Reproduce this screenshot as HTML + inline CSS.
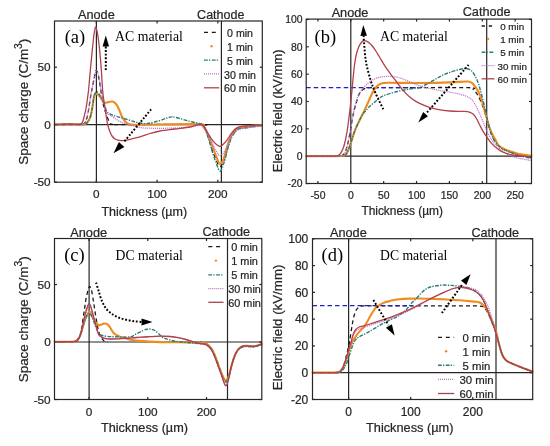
<!DOCTYPE html>
<html><head><meta charset="utf-8"><style>html,body{margin:0;padding:0;background:#fff;}svg{display:block} text{-webkit-font-smoothing:antialiased;} svg{will-change:transform}</style></head>
<body><svg width="550" height="446" viewBox="0 0 550 446">
<rect width="550" height="446" fill="#fff"/>
<line x1="96.4" y1="21" x2="96.4" y2="182.2" stroke="#262626" stroke-width="1.2" />
<line x1="221.4" y1="21" x2="221.4" y2="182.2" stroke="#262626" stroke-width="1.2" />
<line x1="54.5" y1="124.7" x2="262.3" y2="124.7" stroke="#262626" stroke-width="1.2" />
<line x1="96.4" y1="182.2" x2="96.4" y2="179.7" stroke="#262626" stroke-width="1.2" />
<line x1="96.4" y1="21" x2="96.4" y2="23.5" stroke="#262626" stroke-width="1.2" />
<line x1="157.1" y1="182.2" x2="157.1" y2="179.7" stroke="#262626" stroke-width="1.2" />
<line x1="157.1" y1="21" x2="157.1" y2="23.5" stroke="#262626" stroke-width="1.2" />
<line x1="217.8" y1="182.2" x2="217.8" y2="179.7" stroke="#262626" stroke-width="1.2" />
<line x1="217.8" y1="21" x2="217.8" y2="23.5" stroke="#262626" stroke-width="1.2" />
<line x1="54.5" y1="182.2" x2="57" y2="182.2" stroke="#262626" stroke-width="1.2" />
<line x1="262.3" y1="182.2" x2="259.8" y2="182.2" stroke="#262626" stroke-width="1.2" />
<line x1="54.5" y1="124.7" x2="57" y2="124.7" stroke="#262626" stroke-width="1.2" />
<line x1="262.3" y1="124.7" x2="259.8" y2="124.7" stroke="#262626" stroke-width="1.2" />
<line x1="54.5" y1="67.2" x2="57" y2="67.2" stroke="#262626" stroke-width="1.2" />
<line x1="262.3" y1="67.2" x2="259.8" y2="67.2" stroke="#262626" stroke-width="1.2" />
<line x1="350.8" y1="19.1" x2="350.8" y2="183.5" stroke="#262626" stroke-width="1.2" />
<line x1="486.7" y1="19.1" x2="486.7" y2="183.5" stroke="#262626" stroke-width="1.2" />
<line x1="306.2" y1="156.2" x2="531.5" y2="156.2" stroke="#262626" stroke-width="1.2" />
<line x1="317.93" y1="183.5" x2="317.93" y2="181" stroke="#262626" stroke-width="1.2" />
<line x1="317.93" y1="19.1" x2="317.93" y2="21.6" stroke="#262626" stroke-width="1.2" />
<line x1="350.8" y1="183.5" x2="350.8" y2="181" stroke="#262626" stroke-width="1.2" />
<line x1="350.8" y1="19.1" x2="350.8" y2="21.6" stroke="#262626" stroke-width="1.2" />
<line x1="383.68" y1="183.5" x2="383.68" y2="181" stroke="#262626" stroke-width="1.2" />
<line x1="383.68" y1="19.1" x2="383.68" y2="21.6" stroke="#262626" stroke-width="1.2" />
<line x1="416.55" y1="183.5" x2="416.55" y2="181" stroke="#262626" stroke-width="1.2" />
<line x1="416.55" y1="19.1" x2="416.55" y2="21.6" stroke="#262626" stroke-width="1.2" />
<line x1="449.43" y1="183.5" x2="449.43" y2="181" stroke="#262626" stroke-width="1.2" />
<line x1="449.43" y1="19.1" x2="449.43" y2="21.6" stroke="#262626" stroke-width="1.2" />
<line x1="482.3" y1="183.5" x2="482.3" y2="181" stroke="#262626" stroke-width="1.2" />
<line x1="482.3" y1="19.1" x2="482.3" y2="21.6" stroke="#262626" stroke-width="1.2" />
<line x1="515.17" y1="183.5" x2="515.17" y2="181" stroke="#262626" stroke-width="1.2" />
<line x1="515.17" y1="19.1" x2="515.17" y2="21.6" stroke="#262626" stroke-width="1.2" />
<line x1="306.2" y1="183.55" x2="308.7" y2="183.55" stroke="#262626" stroke-width="1.2" />
<line x1="531.5" y1="183.55" x2="529" y2="183.55" stroke="#262626" stroke-width="1.2" />
<line x1="306.2" y1="156.2" x2="308.7" y2="156.2" stroke="#262626" stroke-width="1.2" />
<line x1="531.5" y1="156.2" x2="529" y2="156.2" stroke="#262626" stroke-width="1.2" />
<line x1="306.2" y1="128.85" x2="308.7" y2="128.85" stroke="#262626" stroke-width="1.2" />
<line x1="531.5" y1="128.85" x2="529" y2="128.85" stroke="#262626" stroke-width="1.2" />
<line x1="306.2" y1="101.5" x2="308.7" y2="101.5" stroke="#262626" stroke-width="1.2" />
<line x1="531.5" y1="101.5" x2="529" y2="101.5" stroke="#262626" stroke-width="1.2" />
<line x1="306.2" y1="74.15" x2="308.7" y2="74.15" stroke="#262626" stroke-width="1.2" />
<line x1="531.5" y1="74.15" x2="529" y2="74.15" stroke="#262626" stroke-width="1.2" />
<line x1="306.2" y1="46.8" x2="308.7" y2="46.8" stroke="#262626" stroke-width="1.2" />
<line x1="531.5" y1="46.8" x2="529" y2="46.8" stroke="#262626" stroke-width="1.2" />
<line x1="306.2" y1="19.45" x2="308.7" y2="19.45" stroke="#262626" stroke-width="1.2" />
<line x1="531.5" y1="19.45" x2="529" y2="19.45" stroke="#262626" stroke-width="1.2" />
<line x1="89.1" y1="238.5" x2="89.1" y2="399.5" stroke="#262626" stroke-width="1.2" />
<line x1="227.5" y1="238.5" x2="227.5" y2="399.5" stroke="#262626" stroke-width="1.2" />
<line x1="54.5" y1="342" x2="261.8" y2="342" stroke="#262626" stroke-width="1.2" />
<line x1="89.1" y1="399.5" x2="89.1" y2="397" stroke="#262626" stroke-width="1.2" />
<line x1="89.1" y1="238.5" x2="89.1" y2="241" stroke="#262626" stroke-width="1.2" />
<line x1="147.8" y1="399.5" x2="147.8" y2="397" stroke="#262626" stroke-width="1.2" />
<line x1="147.8" y1="238.5" x2="147.8" y2="241" stroke="#262626" stroke-width="1.2" />
<line x1="206.5" y1="399.5" x2="206.5" y2="397" stroke="#262626" stroke-width="1.2" />
<line x1="206.5" y1="238.5" x2="206.5" y2="241" stroke="#262626" stroke-width="1.2" />
<line x1="54.5" y1="399.5" x2="57" y2="399.5" stroke="#262626" stroke-width="1.2" />
<line x1="261.8" y1="399.5" x2="259.3" y2="399.5" stroke="#262626" stroke-width="1.2" />
<line x1="54.5" y1="342" x2="57" y2="342" stroke="#262626" stroke-width="1.2" />
<line x1="261.8" y1="342" x2="259.3" y2="342" stroke="#262626" stroke-width="1.2" />
<line x1="54.5" y1="284.5" x2="57" y2="284.5" stroke="#262626" stroke-width="1.2" />
<line x1="261.8" y1="284.5" x2="259.3" y2="284.5" stroke="#262626" stroke-width="1.2" />
<line x1="348.6" y1="238.7" x2="348.6" y2="399.5" stroke="#262626" stroke-width="1.2" />
<line x1="496" y1="238.7" x2="496" y2="399.5" stroke="#262626" stroke-width="1.2" />
<line x1="312.5" y1="372.7" x2="532.7" y2="372.7" stroke="#262626" stroke-width="1.2" />
<line x1="348.6" y1="399.5" x2="348.6" y2="397" stroke="#262626" stroke-width="1.2" />
<line x1="348.6" y1="238.7" x2="348.6" y2="241.2" stroke="#262626" stroke-width="1.2" />
<line x1="410.7" y1="399.5" x2="410.7" y2="397" stroke="#262626" stroke-width="1.2" />
<line x1="410.7" y1="238.7" x2="410.7" y2="241.2" stroke="#262626" stroke-width="1.2" />
<line x1="472.8" y1="399.5" x2="472.8" y2="397" stroke="#262626" stroke-width="1.2" />
<line x1="472.8" y1="238.7" x2="472.8" y2="241.2" stroke="#262626" stroke-width="1.2" />
<line x1="312.5" y1="399.48" x2="315" y2="399.48" stroke="#262626" stroke-width="1.2" />
<line x1="532.7" y1="399.48" x2="530.2" y2="399.48" stroke="#262626" stroke-width="1.2" />
<line x1="312.5" y1="372.7" x2="315" y2="372.7" stroke="#262626" stroke-width="1.2" />
<line x1="532.7" y1="372.7" x2="530.2" y2="372.7" stroke="#262626" stroke-width="1.2" />
<line x1="312.5" y1="345.92" x2="315" y2="345.92" stroke="#262626" stroke-width="1.2" />
<line x1="532.7" y1="345.92" x2="530.2" y2="345.92" stroke="#262626" stroke-width="1.2" />
<line x1="312.5" y1="319.14" x2="315" y2="319.14" stroke="#262626" stroke-width="1.2" />
<line x1="532.7" y1="319.14" x2="530.2" y2="319.14" stroke="#262626" stroke-width="1.2" />
<line x1="312.5" y1="292.36" x2="315" y2="292.36" stroke="#262626" stroke-width="1.2" />
<line x1="532.7" y1="292.36" x2="530.2" y2="292.36" stroke="#262626" stroke-width="1.2" />
<line x1="312.5" y1="265.58" x2="315" y2="265.58" stroke="#262626" stroke-width="1.2" />
<line x1="532.7" y1="265.58" x2="530.2" y2="265.58" stroke="#262626" stroke-width="1.2" />
<line x1="312.5" y1="238.8" x2="315" y2="238.8" stroke="#262626" stroke-width="1.2" />
<line x1="532.7" y1="238.8" x2="530.2" y2="238.8" stroke="#262626" stroke-width="1.2" />
<path d="M54.5,124.5 C58.75,124.5 75.25,124.55 80,124.5 C84.75,124.45 82.2,124.48 83,124.2 C83.8,123.92 84.15,123.83 84.8,122.8 C85.45,121.77 86.23,120.38 86.9,118 C87.57,115.62 88.17,112.17 88.8,108.5 C89.43,104.83 90.13,99.42 90.7,96 C91.27,92.58 91.68,90.67 92.2,88 C92.72,85.33 93.28,82.53 93.8,80 C94.32,77.47 94.87,74.42 95.3,72.8 C95.73,71.18 96.02,70.35 96.4,70.3 C96.78,70.25 97.13,70.88 97.6,72.5 C98.07,74.12 98.67,77.08 99.2,80 C99.73,82.92 100.27,86.67 100.8,90 C101.33,93.33 101.83,97 102.4,100 C102.97,103 103.52,105.5 104.2,108 C104.88,110.5 105.57,112.55 106.5,115 C107.43,117.45 108.8,121.15 109.8,122.7 C110.8,124.25 110.8,123.98 112.5,124.3 C114.2,124.62 105.42,124.57 120,124.6 C134.58,124.63 186,124.18 200,124.5 C214,124.82 202.65,124.58 204,126.5 C205.35,128.42 206.75,132.25 208.1,136 C209.45,139.75 210.75,145 212.1,149 C213.45,153 214.88,157.08 216.2,160 C217.52,162.92 218.7,166.5 220,166.5 C221.3,166.5 222.67,163.42 224,160 C225.33,156.58 226.62,150.17 228,146 C229.38,141.83 230.68,137.83 232.3,135 C233.92,132.17 235.58,130.25 237.7,129 C239.82,127.75 240.95,128.12 245,127.5 C249.05,126.88 259.17,125.67 262,125.3" fill="none" stroke="#1a1a1a" stroke-width="1.3" stroke-dasharray="4,3"/>
<path d="M54.5,124.5 C57.08,124.48 65.75,124.4 70,124.4 C74.25,124.4 77.67,124.5 80,124.5 C82.33,124.5 83,124.55 84,124.4 C85,124.25 85.38,124.03 86,123.6 C86.62,123.17 87.03,122.73 87.7,121.8 C88.37,120.87 89.25,120.22 90,118 C90.75,115.78 91.52,112.17 92.2,108.5 C92.88,104.83 93.55,98.32 94.1,96 C94.65,93.68 94.98,94.93 95.5,94.6 C96.02,94.27 96.38,93.57 97.2,94 C98.02,94.43 99.27,95.77 100.4,97.2 C101.53,98.63 102.65,101.78 104,102.6 C105.35,103.42 106.93,102.25 108.5,102.1 C110.07,101.95 112.03,101.23 113.4,101.7 C114.77,102.17 115.7,103.45 116.7,104.9 C117.7,106.35 118.57,108.55 119.4,110.4 C120.23,112.25 120.88,114.32 121.7,116 C122.52,117.68 123.28,119.23 124.3,120.5 C125.32,121.77 126.65,122.93 127.8,123.6 C128.95,124.27 129.17,124.32 131.2,124.5 C133.23,124.68 135.2,124.7 140,124.7 C144.8,124.7 150,124.57 160,124.5 C170,124.43 192.75,123.88 200,124.3 C207.25,124.72 202.38,125.7 203.5,127 C204.62,128.3 205.27,129 206.7,132.1 C208.13,135.2 210.52,141.55 212.1,145.6 C213.68,149.65 214.9,153.37 216.2,156.4 C217.5,159.43 218.67,163.35 219.9,163.8 C221.13,164.25 222.42,161.9 223.6,159.1 C224.78,156.3 225.88,150.6 227,147 C228.12,143.4 228.97,140.32 230.3,137.5 C231.63,134.68 233.32,131.78 235,130.1 C236.68,128.42 237.9,128.08 240.4,127.4 C242.9,126.72 246.4,126.4 250,126 C253.6,125.6 260,125.17 262,125" fill="none" stroke="#f08c1e" stroke-width="2.1" stroke-linejoin="round" stroke-linecap="round"/>
<path d="M54.5,124.5 C57.08,124.48 65.75,124.4 70,124.4 C74.25,124.4 77.67,124.5 80,124.5 C82.33,124.5 83,124.55 84,124.4 C85,124.25 85.38,124.03 86,123.6 C86.62,123.17 87.03,122.73 87.7,121.8 C88.37,120.87 89.25,120.22 90,118 C90.75,115.78 91.52,112.17 92.2,108.5 C92.88,104.83 93.55,98.62 94.1,96 C94.65,93.38 95.05,93.55 95.5,92.8 C95.95,92.05 96.22,91.3 96.8,91.5 C97.38,91.7 98.25,92.9 99,94 C99.75,95.1 100.47,96.52 101.3,98.1 C102.13,99.68 103.1,101.32 104,103.5 C104.9,105.68 105.7,109.48 106.7,111.2 C107.7,112.92 108.87,113.08 110,113.8 C111.13,114.52 112.17,115 113.5,115.5 C114.83,116 116.43,116.35 118,116.8 C119.57,117.25 121.23,117.7 122.9,118.2 C124.57,118.7 126.22,119.25 128,119.8 C129.78,120.35 131.77,121 133.6,121.5 C135.43,122 137.2,122.45 139,122.8 C140.8,123.15 142.73,123.52 144.4,123.6 C146.07,123.68 147.43,123.53 149,123.3 C150.57,123.07 151.88,122.68 153.8,122.2 C155.72,121.72 158.3,121.1 160.5,120.4 C162.7,119.7 165.02,118.58 167,118 C168.98,117.42 170.23,116.82 172.4,116.9 C174.57,116.98 177.07,117.73 180,118.5 C182.93,119.27 186.67,120.65 190,121.5 C193.33,122.35 197.67,122.85 200,123.6 C202.33,124.35 202.65,123.68 204,126 C205.35,128.32 206.75,133.33 208.1,137.5 C209.45,141.67 210.75,146.73 212.1,151 C213.45,155.27 214.85,159.73 216.2,163.1 C217.55,166.47 218.85,171.42 220.2,171.2 C221.55,170.98 222.95,165.83 224.3,161.8 C225.65,157.77 226.97,151.27 228.3,147 C229.63,142.73 230.73,139.13 232.3,136.2 C233.87,133.27 235.58,130.75 237.7,129.4 C239.82,128.05 240.95,128.75 245,128.1 C249.05,127.45 259.17,125.93 262,125.5" fill="none" stroke="#287c78" stroke-width="1.4" stroke-dasharray="3.8,1.2,1.3,1.4"/>
<path d="M54.5,124.5 C58.75,124.5 75.25,124.55 80,124.5 C84.75,124.45 82.2,124.48 83,124.2 C83.8,123.92 84.15,123.83 84.8,122.8 C85.45,121.77 86.23,120.38 86.9,118 C87.57,115.62 88.17,112.17 88.8,108.5 C89.43,104.83 90.13,99.42 90.7,96 C91.27,92.58 91.68,90.67 92.2,88 C92.72,85.33 93.27,82.5 93.8,80 C94.33,77.5 94.93,74.53 95.4,73 C95.87,71.47 96.2,70.8 96.6,70.8 C97,70.8 97.33,71.47 97.8,73 C98.27,74.53 98.87,77.17 99.4,80 C99.93,82.83 100.43,86.67 101,90 C101.57,93.33 102.17,97.25 102.8,100 C103.43,102.75 104.15,104.45 104.8,106.5 C105.45,108.55 105.92,110.88 106.7,112.3 C107.48,113.72 108.37,114.13 109.5,115 C110.63,115.87 112.08,116.58 113.5,117.5 C114.92,118.42 116.43,119.6 118,120.5 C119.57,121.4 120.97,122.17 122.9,122.9 C124.83,123.63 126.68,124.12 129.6,124.9 C132.52,125.68 137,127.05 140.4,127.6 C143.8,128.15 146.73,128.08 150,128.2 C153.27,128.32 155.83,128.33 160,128.3 C164.17,128.27 170,128.22 175,128 C180,127.78 185.83,127.42 190,127 C194.17,126.58 197.67,125.32 200,125.5 C202.33,125.68 202.2,125.65 204,128.1 C205.8,130.55 208.77,136.38 210.8,140.2 C212.83,144.02 214.63,148.42 216.2,151 C217.77,153.58 218.63,155.93 220.2,155.7 C221.77,155.47 223.8,152.63 225.6,149.6 C227.4,146.57 228.98,140.75 231,137.5 C233.02,134.25 235.37,131.68 237.7,130.1 C240.03,128.52 240.95,128.68 245,128 C249.05,127.32 259.17,126.33 262,126" fill="none" stroke="#c070c8" stroke-width="1.25" stroke-dasharray="1.1,0.9"/>
<path d="M54.5,124.6 C55.75,124.53 59.42,124.3 62,124.2 C64.58,124.1 67.67,123.98 70,124 C72.33,124.02 74.42,124.25 76,124.3 C77.58,124.35 78.67,124.38 79.5,124.3 C80.33,124.22 80.5,124.13 81,123.8 C81.5,123.47 82.03,123.27 82.5,122.3 C82.97,121.33 83.38,119.55 83.8,118 C84.22,116.45 84.63,114.58 85,113 C85.37,111.42 85.67,110.33 86,108.5 C86.33,106.67 86.7,104.08 87,102 C87.3,99.92 87.53,98 87.8,96 C88.07,94 88.25,93.5 88.6,90 C88.95,86.5 89.45,80 89.9,75 C90.35,70 90.82,65 91.3,60 C91.78,55 92.32,49.5 92.8,45 C93.28,40.5 93.73,36 94.2,33 C94.67,30 95.13,27.33 95.6,27 C96.07,26.67 96.57,29.17 97,31 C97.43,32.83 97.83,35.5 98.2,38 C98.57,40.5 98.88,43.17 99.2,46 C99.52,48.83 99.77,51.33 100.1,55 C100.43,58.67 100.78,62.17 101.2,68 C101.62,73.83 102.13,84.38 102.6,90 C103.07,95.62 103.47,97.82 104,101.7 C104.53,105.58 105.2,109.57 105.8,113.3 C106.4,117.03 106.98,121.23 107.6,124.1 C108.22,126.97 108.77,128.52 109.5,130.5 C110.23,132.48 110.92,134.5 112,136 C113.08,137.5 114.3,138.72 116,139.5 C117.7,140.28 119.87,140.73 122.2,140.7 C124.53,140.67 127.03,139.93 130,139.3 C132.97,138.67 136.67,137.87 140,136.9 C143.33,135.93 146.67,134.48 150,133.5 C153.33,132.52 155.83,131.75 160,131 C164.17,130.25 170,129.67 175,129 C180,128.33 185.83,127.78 190,127 C194.17,126.22 197.67,124.38 200,124.3 C202.33,124.22 202.65,124.97 204,126.5 C205.35,128.03 206.52,130.98 208.1,133.5 C209.68,136.02 211.6,139.47 213.5,141.6 C215.4,143.73 217.92,145.82 219.5,146.3 C221.08,146.78 221.75,145.52 223,144.5 C224.25,143.48 225.45,142.27 227,140.2 C228.55,138.13 230.52,134.23 232.3,132.1 C234.08,129.97 235.58,128.42 237.7,127.4 C239.82,126.38 240.95,126.4 245,126 C249.05,125.6 259.17,125.17 262,125" fill="none" stroke="#b0404c" stroke-width="1.3" stroke-linejoin="round"/>
<path d="M306.2,156.1 C308.5,156.1 315.2,156.1 320,156.1 C324.8,156.1 331.67,156.12 335,156.1 C338.33,156.08 338.47,156.35 340,156 C341.53,155.65 343.02,155.58 344.2,154 C345.38,152.42 346.23,149.5 347.1,146.5 C347.97,143.5 348.72,139.5 349.4,136 C350.08,132.5 350.57,129.05 351.2,125.5 C351.83,121.95 352.63,117.53 353.2,114.7 C353.77,111.87 354.12,110.4 354.6,108.5 C355.08,106.6 355.35,105.68 356.1,103.3 C356.85,100.92 358.1,96.38 359.1,94.2 C360.1,92.02 361.1,91.18 362.1,90.2 C363.1,89.22 363.78,88.72 365.1,88.3 C366.42,87.88 364.18,87.82 370,87.7 C375.82,87.58 383.67,87.6 400,87.6 C416.33,87.6 455.78,87.37 468,87.7 C480.22,88.03 471.67,88.38 473.3,89.6 C474.93,90.82 476.3,92.45 477.8,95 C479.3,97.55 480.95,101.45 482.3,104.9 C483.65,108.35 485,112.8 485.9,115.7 C486.8,118.6 486.98,119.75 487.7,122.3 C488.42,124.85 489.17,128.12 490.2,131 C491.23,133.88 492.47,137.1 493.9,139.6 C495.33,142.1 496.95,144.27 498.8,146 C500.65,147.73 502.73,148.87 505,150 C507.27,151.13 509.73,151.93 512.4,152.8 C515.07,153.67 517.82,154.43 521,155.2 C524.18,155.97 529.75,157.03 531.5,157.4" fill="none" stroke="#1a1a1a" stroke-width="1.3" stroke-dasharray="4,3"/>
<line x1="306.2" y1="87.6" x2="422" y2="87.6" stroke="#2020c0" stroke-width="1.2" stroke-dasharray="4.5,3"/>
<path d="M306.2,156.1 C308.5,156.1 315.2,156.1 320,156.1 C324.8,156.1 331.67,156.12 335,156.1 C338.33,156.08 338.28,156.15 340,156 C341.72,155.85 343.83,156.4 345.3,155.2 C346.77,154 347.82,151.03 348.8,148.8 C349.78,146.57 350.23,144.72 351.2,141.8 C352.17,138.88 353.25,134.8 354.6,131.3 C355.95,127.8 357.9,123.77 359.3,120.8 C360.7,117.83 361.52,116.58 363,113.5 C364.48,110.42 366.67,105.68 368.2,102.3 C369.73,98.92 371.03,95.57 372.2,93.2 C373.37,90.83 374.2,89.45 375.2,88.1 C376.2,86.75 377.02,85.9 378.2,85.1 C379.38,84.3 380.58,83.68 382.3,83.3 C384.02,82.92 382.22,82.85 388.5,82.8 C394.78,82.75 409.75,83.07 420,83 C430.25,82.93 442,82.65 450,82.4 C458,82.15 464.12,81.2 468,81.5 C471.88,81.8 471.52,82.4 473.3,84.2 C475.08,86 477.2,89.33 478.7,92.3 C480.2,95.27 481.32,98.97 482.3,102 C483.28,105.03 483.85,107.75 484.6,110.5 C485.35,113.25 485.97,115.67 486.8,118.5 C487.63,121.33 488.67,124.83 489.6,127.5 C490.53,130.17 491.37,132.37 492.4,134.5 C493.43,136.63 494.73,138.42 495.8,140.3 C496.87,142.18 497.27,144.27 498.8,145.8 C500.33,147.33 502.73,148.47 505,149.5 C507.27,150.53 509.73,151.18 512.4,152 C515.07,152.82 517.82,153.78 521,154.4 C524.18,155.02 529.75,155.48 531.5,155.7" fill="none" stroke="#f08c1e" stroke-width="2.1" stroke-linejoin="round" stroke-linecap="round"/>
<path d="M306.2,156.1 C308.5,156.1 315.2,156.1 320,156.1 C324.8,156.1 331.67,156.12 335,156.1 C338.33,156.08 338.28,156.15 340,156 C341.72,155.85 343.83,156.4 345.3,155.2 C346.77,154 347.82,151.03 348.8,148.8 C349.78,146.57 350.23,144.72 351.2,141.8 C352.17,138.88 353.25,134.8 354.6,131.3 C355.95,127.8 357.9,123.68 359.3,120.8 C360.7,117.92 361.88,115.72 363,114 C364.12,112.28 364.92,111.75 366,110.5 C367.08,109.25 368.3,107.7 369.5,106.5 C370.7,105.3 371.75,104.52 373.2,103.3 C374.65,102.08 376.4,100.5 378.2,99.2 C380,97.9 380.82,96.78 384,95.5 C387.18,94.22 393.02,92.58 397.3,91.5 C401.58,90.42 406.2,89.62 409.7,89 C413.2,88.38 415.63,88.52 418.3,87.8 C420.97,87.08 423.02,86.03 425.7,84.7 C428.38,83.37 431.68,81.33 434.4,79.8 C437.12,78.27 439.4,76.75 442,75.5 C444.6,74.25 446.72,73.38 450,72.3 C453.28,71.22 459,69.62 461.7,69 C464.4,68.38 464.57,68.3 466.2,68.6 C467.83,68.9 469.72,68.95 471.5,70.8 C473.28,72.65 475.4,76.42 476.9,79.7 C478.4,82.98 479.3,86.3 480.5,90.5 C481.7,94.7 482.9,99.82 484.1,104.9 C485.3,109.98 486.68,116.65 487.7,121 C488.72,125.35 489.17,127.9 490.2,131 C491.23,134.1 492.47,137.1 493.9,139.6 C495.33,142.1 496.95,144.27 498.8,146 C500.65,147.73 502.73,148.83 505,150 C507.27,151.17 509.73,152 512.4,153 C515.07,154 517.82,155.07 521,156 C524.18,156.93 529.75,158.17 531.5,158.6" fill="none" stroke="#287c78" stroke-width="1.4" stroke-dasharray="3.8,1.2,1.3,1.4"/>
<path d="M306.2,156.1 C308.5,156.1 315.2,156.1 320,156.1 C324.8,156.1 331.67,156.12 335,156.1 C338.33,156.08 338.47,156.35 340,156 C341.53,155.65 343.02,155.58 344.2,154 C345.38,152.42 346.23,149.5 347.1,146.5 C347.97,143.5 348.72,139.5 349.4,136 C350.08,132.5 350.65,128.75 351.2,125.5 C351.75,122.25 352.23,119.03 352.7,116.5 C353.17,113.97 353.45,112.63 354,110.3 C354.55,107.97 355.32,104.85 356,102.5 C356.68,100.15 357.35,97.98 358.1,96.2 C358.85,94.42 359.67,93.15 360.5,91.8 C361.33,90.45 361.82,89.55 363.1,88.1 C364.38,86.65 366.52,84.52 368.2,83.1 C369.88,81.68 371.53,80.52 373.2,79.6 C374.87,78.68 376.4,78.1 378.2,77.6 C380,77.1 382.03,76.8 384,76.6 C385.97,76.4 387.23,76.15 390,76.4 C392.77,76.65 395.57,76.5 400.6,78.1 C405.63,79.7 413.63,83.93 420.2,86 C426.77,88.07 434.28,89.33 440,90.5 C445.72,91.67 450.25,92.1 454.5,93 C458.75,93.9 462.67,94.82 465.5,95.9 C468.33,96.98 470,98.23 471.5,99.5 C473,100.77 473.45,101.83 474.5,103.5 C475.55,105.17 476.68,107.2 477.8,109.5 C478.92,111.8 480.07,114.63 481.2,117.3 C482.33,119.97 483.48,122.8 484.6,125.5 C485.72,128.2 486.6,130.92 487.9,133.5 C489.2,136.08 490.72,138.75 492.4,141 C494.08,143.25 495.9,145.03 498,147 C500.1,148.97 502.18,151.08 505,152.8 C507.82,154.52 510.48,156 514.9,157.3 C519.32,158.6 528.73,160.05 531.5,160.6" fill="none" stroke="#c070c8" stroke-width="1.25" stroke-dasharray="1.1,0.9"/>
<path d="M306.2,156.1 C308.5,156.1 316.03,156.1 320,156.1 C323.97,156.1 327.33,156.13 330,156.1 C332.67,156.07 334.42,156.15 336,155.9 C337.58,155.65 338.33,155.78 339.5,154.6 C340.67,153.42 342.03,151.13 343,148.8 C343.97,146.47 344.62,143.52 345.3,140.6 C345.98,137.68 346.58,134.4 347.1,131.3 C347.62,128.2 348,124.97 348.4,122 C348.8,119.03 349.13,116.5 349.5,113.5 C349.87,110.5 350.25,107.25 350.6,104 C350.95,100.75 351.28,97.17 351.6,94 C351.92,90.83 352.22,88 352.5,85 C352.78,82 352.97,79.33 353.3,76 C353.63,72.67 354.02,68.5 354.5,65 C354.98,61.5 355.53,57.92 356.2,55 C356.87,52.08 357.7,49.5 358.5,47.5 C359.3,45.5 360.17,44.13 361,43 C361.83,41.87 362.58,41 363.5,40.7 C364.42,40.4 365.33,40.65 366.5,41.2 C367.67,41.75 369.2,42.77 370.5,44 C371.8,45.23 372.8,46.43 374.3,48.6 C375.8,50.77 377.72,54.07 379.5,57 C381.28,59.93 383.05,63.23 385,66.2 C386.95,69.17 389.15,72.03 391.2,74.8 C393.25,77.57 395.25,80.12 397.3,82.8 C399.35,85.48 401.43,88.53 403.5,90.9 C405.57,93.27 407.63,95.25 409.7,97 C411.77,98.75 413.85,100.17 415.9,101.4 C417.95,102.63 419.95,103.48 422,104.4 C424.05,105.32 426.03,106.17 428.2,106.9 C430.37,107.63 431.37,108.12 435,108.8 C438.63,109.48 445.1,110.57 450,111 C454.9,111.43 461.07,111.18 464.4,111.4 C467.73,111.62 468.5,111.82 470,112.3 C471.5,112.78 472.28,113.18 473.4,114.3 C474.52,115.42 475.58,117.08 476.7,119 C477.82,120.92 478.98,123.65 480.1,125.8 C481.22,127.95 482.28,130.03 483.4,131.9 C484.52,133.77 485.48,135.13 486.8,137 C488.12,138.87 489.62,141.23 491.3,143.1 C492.98,144.97 495.03,146.75 496.9,148.2 C498.77,149.65 499.92,150.67 502.5,151.8 C505.08,152.93 509.32,154.32 512.4,155 C515.48,155.68 517.82,155.62 521,155.9 C524.18,156.18 529.75,156.57 531.5,156.7" fill="none" stroke="#b0404c" stroke-width="1.3" stroke-linejoin="round"/>
<path d="M54.5,341.8 C57.42,341.8 68.58,341.82 72,341.8 C75.42,341.78 74.17,341.9 75,341.7 C75.83,341.5 76.25,341.35 77,340.6 C77.75,339.85 78.8,338.88 79.5,337.2 C80.2,335.52 80.72,332.78 81.2,330.5 C81.68,328.22 82.02,325.98 82.4,323.5 C82.78,321.02 83.12,318.22 83.5,315.6 C83.88,312.98 84.32,310.42 84.7,307.8 C85.08,305.18 85.33,302.52 85.8,299.9 C86.27,297.28 87.02,294.08 87.5,292.1 C87.98,290.12 88.33,288.97 88.7,288 C89.07,287.03 89.35,286.3 89.7,286.3 C90.05,286.3 90.43,287.03 90.8,288 C91.17,288.97 91.43,289.73 91.9,292.1 C92.37,294.47 93.03,298.65 93.6,302.2 C94.17,305.75 94.73,309.85 95.3,313.4 C95.87,316.95 96.53,320.88 97,323.5 C97.47,326.12 97.6,327.1 98.1,329.1 C98.6,331.1 99.32,333.87 100,335.5 C100.68,337.13 101.47,337.93 102.2,338.9 C102.93,339.87 103.43,340.8 104.4,341.3 C105.37,341.8 107.4,341.8 108,341.9" fill="none" stroke="#1a1a1a" stroke-width="1.3" stroke-dasharray="4,3"/>
<path d="M200,342.2 C201,342.38 204.2,342.42 206,343.3 C207.8,344.18 209.38,345.63 210.8,347.5 C212.22,349.37 213.28,351.67 214.5,354.5 C215.72,357.33 216.98,361.42 218.1,364.5 C219.22,367.58 220.28,370.58 221.2,373 C222.12,375.42 222.88,377.62 223.6,379 C224.32,380.38 224.93,381.05 225.5,381.3 C226.07,381.55 226.52,381.13 227,380.5 C227.48,379.87 227.87,379.12 228.4,377.5 C228.93,375.88 229.58,373.12 230.2,370.8 C230.82,368.48 231.38,366.02 232.1,363.6 C232.82,361.18 233.7,358.33 234.5,356.3 C235.3,354.27 236,352.8 236.9,351.4 C237.8,350 238.78,348.77 239.9,347.9 C241.02,347.03 242.38,346.52 243.6,346.2 C244.82,345.88 246.05,345.98 247.2,346 C248.35,346.02 249.38,346.22 250.5,346.3 C251.62,346.38 252.73,346.6 253.9,346.5 C255.07,346.4 256.18,346.1 257.5,345.7 C258.82,345.3 261.08,344.37 261.8,344.1" fill="none" stroke="#1a1a1a" stroke-width="1.3" stroke-dasharray="4,3"/>
<path d="M54.5,341.8 C56.25,341.78 62.42,341.72 65,341.7 C67.58,341.68 68.5,341.72 70,341.7 C71.5,341.68 72.92,341.8 74,341.6 C75.08,341.4 75.58,341.27 76.5,340.5 C77.42,339.73 78.67,338.5 79.5,337 C80.33,335.5 80.75,333.83 81.5,331.5 C82.25,329.17 83.12,325.67 84,323 C84.88,320.33 85.87,317.35 86.8,315.5 C87.73,313.65 88.82,312.15 89.6,311.9 C90.38,311.65 90.85,312.83 91.5,314 C92.15,315.17 92.63,317.3 93.5,318.9 C94.37,320.5 95.65,322.55 96.7,323.6 C97.75,324.65 98.63,325.2 99.8,325.2 C100.97,325.2 102.58,323.83 103.7,323.6 C104.82,323.37 105.67,323.48 106.5,323.8 C107.33,324.12 108.03,324.75 108.7,325.5 C109.37,326.25 109.87,327.3 110.5,328.3 C111.13,329.3 111.83,330.58 112.5,331.5 C113.17,332.42 113.68,333.13 114.5,333.8 C115.32,334.47 116.15,334.88 117.4,335.5 C118.65,336.12 120.4,336.95 122,337.5 C123.6,338.05 125.22,338.38 127,338.8 C128.78,339.22 130.53,339.65 132.7,340 C134.87,340.35 137.27,340.63 140,340.9 C142.73,341.17 145.77,341.4 149.1,341.6 C152.43,341.8 155.15,341.98 160,342.1 C164.85,342.22 171.53,342.18 178.2,342.3 C184.87,342.42 195.37,342.6 200,342.8 C204.63,343 204.2,342.68 206,343.5 C207.8,344.32 209.38,345.88 210.8,347.7 C212.22,349.52 213.28,351.67 214.5,354.4 C215.72,357.13 216.98,361.08 218.1,364.1 C219.22,367.12 220.28,370.18 221.2,372.5 C222.12,374.82 222.88,376.7 223.6,378 C224.32,379.3 224.93,380.05 225.5,380.3 C226.07,380.55 226.52,380.05 227,379.5 C227.48,378.95 227.87,378.5 228.4,377 C228.93,375.5 229.58,372.75 230.2,370.5 C230.82,368.25 231.38,365.88 232.1,363.5 C232.82,361.12 233.7,358.23 234.5,356.2 C235.3,354.17 236,352.72 236.9,351.3 C237.8,349.88 238.78,348.6 239.9,347.7 C241.02,346.8 242.38,346.22 243.6,345.9 C244.82,345.58 246.05,345.78 247.2,345.8 C248.35,345.82 249.38,345.93 250.5,346 C251.62,346.07 252.73,346.3 253.9,346.2 C255.07,346.1 256.18,345.78 257.5,345.4 C258.82,345.02 261.08,344.15 261.8,343.9" fill="none" stroke="#f08c1e" stroke-width="2.1" stroke-linejoin="round" stroke-linecap="round"/>
<path d="M54.5,341.8 C56.25,341.78 62.42,341.72 65,341.7 C67.58,341.68 68.5,341.72 70,341.7 C71.5,341.68 72.92,341.8 74,341.6 C75.08,341.4 75.58,341.27 76.5,340.5 C77.42,339.73 78.67,338.5 79.5,337 C80.33,335.5 80.75,333.92 81.5,331.5 C82.25,329.08 83.17,325 84,322.5 C84.83,320 85.7,318.02 86.5,316.5 C87.3,314.98 88.13,313.73 88.8,313.4 C89.47,313.07 89.88,313.73 90.5,314.5 C91.12,315.27 91.75,316.25 92.5,318 C93.25,319.75 94.17,322.83 95,325 C95.83,327.17 96.67,329.42 97.5,331 C98.33,332.58 99.08,333.7 100,334.5 C100.92,335.3 101.18,335.45 103,335.8 C104.82,336.15 108.07,336.42 110.9,336.6 C113.73,336.78 116.73,336.87 120,336.9 C123.27,336.93 127.7,337.35 130.5,336.8 C133.3,336.25 134.68,334.65 136.8,333.6 C138.92,332.55 141.5,331.22 143.2,330.5 C144.9,329.78 145.78,329.53 147,329.3 C148.22,329.07 149.17,328.9 150.5,329.1 C151.83,329.3 153.5,329.6 155,330.5 C156.5,331.4 158.13,333.3 159.5,334.5 C160.87,335.7 161.68,336.87 163.2,337.7 C164.72,338.53 166.63,338.92 168.6,339.5 C170.57,340.08 171.43,340.65 175,341.2 C178.57,341.75 185.83,342.4 190,342.8 C194.17,343.2 197.33,343.32 200,343.6 C202.67,343.88 204.2,343.68 206,344.5 C207.8,345.32 209.38,346.67 210.8,348.5 C212.22,350.33 213.28,352.75 214.5,355.5 C215.72,358.25 216.98,362 218.1,365 C219.22,368 220.28,371.08 221.2,373.5 C222.12,375.92 222.88,378.08 223.6,379.5 C224.32,380.92 224.93,381.75 225.5,382 C226.07,382.25 226.52,381.67 227,381 C227.48,380.33 227.87,379.67 228.4,378 C228.93,376.33 229.58,373.37 230.2,371 C230.82,368.63 231.38,366.22 232.1,363.8 C232.82,361.38 233.7,358.5 234.5,356.5 C235.3,354.5 236,353.17 236.9,351.8 C237.8,350.43 238.78,349.13 239.9,348.3 C241.02,347.47 242.38,347.08 243.6,346.8 C244.82,346.52 246.05,346.6 247.2,346.6 C248.35,346.6 249.38,346.73 250.5,346.8 C251.62,346.87 252.73,347.1 253.9,347 C255.07,346.9 256.18,346.62 257.5,346.2 C258.82,345.78 261.08,344.78 261.8,344.5" fill="none" stroke="#287c78" stroke-width="1.4" stroke-dasharray="3.8,1.2,1.3,1.4"/>
<path d="M54.5,341.8 C56.25,341.78 62.42,341.72 65,341.7 C67.58,341.68 68.67,341.7 70,341.7 C71.33,341.7 72.15,341.73 73,341.7 C73.85,341.67 74.38,341.72 75.1,341.5 C75.82,341.28 76.57,341.08 77.3,340.4 C78.03,339.72 78.88,338.72 79.5,337.4 C80.12,336.08 80.52,334.15 81,332.5 C81.48,330.85 81.88,329.58 82.4,327.5 C82.92,325.42 83.45,322.58 84.1,320 C84.75,317.42 85.68,314.08 86.3,312 C86.92,309.92 87.33,308.53 87.8,307.5 C88.27,306.47 88.65,305.83 89.1,305.8 C89.55,305.77 90.03,306.35 90.5,307.3 C90.97,308.25 91.28,309.3 91.9,311.5 C92.52,313.7 93.45,317.75 94.2,320.5 C94.95,323.25 95.68,325.67 96.4,328 C97.12,330.33 97.8,333.08 98.5,334.5 C99.2,335.92 99.85,335.92 100.6,336.5 C101.35,337.08 102.08,337.63 103,338 C103.92,338.37 104.93,338.53 106.1,338.7 C107.27,338.87 108.28,338.97 110,339 C111.72,339.03 114.07,339 116.4,338.9 C118.73,338.8 121.28,338.58 124,338.4 C126.72,338.22 129.73,338.02 132.7,337.8 C135.67,337.58 139.07,337.28 141.8,337.1 C144.53,336.92 146.07,336.85 149.1,336.7 C152.13,336.55 156.52,336.23 160,336.2 C163.48,336.17 166.97,336.27 170,336.5 C173.03,336.73 175.53,337.1 178.2,337.6 C180.87,338.1 183.58,338.83 186,339.5 C188.42,340.17 190.37,340.93 192.7,341.6 C195.03,342.27 197.78,342.98 200,343.5 C202.22,344.02 204.2,343.8 206,344.7 C207.8,345.6 209.38,346.98 210.8,348.9 C212.22,350.82 213.28,353.37 214.5,356.2 C215.72,359.03 216.98,362.87 218.1,365.9 C219.22,368.93 220.28,371.83 221.2,374.4 C222.12,376.97 222.9,379.53 223.6,381.3 C224.3,383.07 224.83,384.55 225.4,385 C225.97,385.45 226.5,384.87 227,384 C227.5,383.13 227.87,381.8 228.4,379.8 C228.93,377.8 229.58,374.63 230.2,372 C230.82,369.37 231.38,366.58 232.1,364 C232.82,361.42 233.7,358.58 234.5,356.5 C235.3,354.42 236,352.95 236.9,351.5 C237.8,350.05 238.78,348.72 239.9,347.8 C241.02,346.88 242.38,346.32 243.6,346 C244.82,345.68 246.05,345.87 247.2,345.9 C248.35,345.93 249.38,346.13 250.5,346.2 C251.62,346.27 252.73,346.42 253.9,346.3 C255.07,346.18 256.18,345.88 257.5,345.5 C258.82,345.12 261.08,344.25 261.8,344" fill="none" stroke="#c070c8" stroke-width="1.25" stroke-dasharray="1.1,0.9"/>
<path d="M54.5,341.8 C56.25,341.78 62.42,341.72 65,341.7 C67.58,341.68 68.67,341.7 70,341.7 C71.33,341.7 72.15,341.73 73,341.7 C73.85,341.67 74.38,341.72 75.1,341.5 C75.82,341.28 76.57,341.08 77.3,340.4 C78.03,339.72 78.88,338.72 79.5,337.4 C80.12,336.08 80.52,334.23 81,332.5 C81.48,330.77 81.88,329.33 82.4,327 C82.92,324.67 83.45,321.33 84.1,318.5 C84.75,315.67 85.68,312.17 86.3,310 C86.92,307.83 87.33,306.55 87.8,305.5 C88.27,304.45 88.65,303.7 89.1,303.7 C89.55,303.7 90.03,304.45 90.5,305.5 C90.97,306.55 91.28,307.75 91.9,310 C92.52,312.25 93.45,316.2 94.2,319 C94.95,321.8 95.68,324.3 96.4,326.8 C97.12,329.3 97.8,332.43 98.5,334 C99.2,335.57 99.85,335.57 100.6,336.2 C101.35,336.83 102.08,337.38 103,337.8 C103.92,338.22 104.93,338.5 106.1,338.7 C107.27,338.9 108.28,338.97 110,339 C111.72,339.03 114.07,339 116.4,338.9 C118.73,338.8 121.28,338.58 124,338.4 C126.72,338.22 129.73,338.02 132.7,337.8 C135.67,337.58 139.07,337.28 141.8,337.1 C144.53,336.92 146.07,336.85 149.1,336.7 C152.13,336.55 156.52,336.23 160,336.2 C163.48,336.17 166.97,336.27 170,336.5 C173.03,336.73 175.53,337.1 178.2,337.6 C180.87,338.1 183.58,338.83 186,339.5 C188.42,340.17 190.37,340.93 192.7,341.6 C195.03,342.27 197.78,342.98 200,343.5 C202.22,344.02 204.2,343.8 206,344.7 C207.8,345.6 209.38,346.98 210.8,348.9 C212.22,350.82 213.28,353.37 214.5,356.2 C215.72,359.03 216.98,362.87 218.1,365.9 C219.22,368.93 220.28,371.78 221.2,374.4 C222.12,377.02 222.9,379.73 223.6,381.6 C224.3,383.47 224.83,385.12 225.4,385.6 C225.97,386.08 226.5,385.43 227,384.5 C227.5,383.57 227.87,382.08 228.4,380 C228.93,377.92 229.58,374.67 230.2,372 C230.82,369.33 231.38,366.58 232.1,364 C232.82,361.42 233.7,358.58 234.5,356.5 C235.3,354.42 236,352.95 236.9,351.5 C237.8,350.05 238.78,348.72 239.9,347.8 C241.02,346.88 242.38,346.32 243.6,346 C244.82,345.68 246.05,345.87 247.2,345.9 C248.35,345.93 249.38,346.13 250.5,346.2 C251.62,346.27 252.73,346.42 253.9,346.3 C255.07,346.18 256.18,345.88 257.5,345.5 C258.82,345.12 261.08,344.25 261.8,344" fill="none" stroke="#b0404c" stroke-width="1.3" stroke-linejoin="round"/>
<path d="M312.5,372.6 C315.42,372.6 325.92,372.62 330,372.6 C334.08,372.58 335.3,372.68 337,372.5 C338.7,372.32 339.1,372.65 340.2,371.5 C341.3,370.35 342.67,367.87 343.6,365.6 C344.53,363.33 345.08,360.6 345.8,357.9 C346.52,355.2 347.23,352.38 347.9,349.4 C348.57,346.42 349.12,343.9 349.8,340 C350.48,336.1 351.3,330 352,326 C352.7,322 353.33,318.58 354,316 C354.67,313.42 355.28,311.9 356,310.5 C356.72,309.1 357.32,308.35 358.3,307.6 C359.28,306.85 360.28,306.3 361.9,306 C363.52,305.7 361.65,305.83 368,305.8 C374.35,305.77 387.55,305.78 400,305.8 C412.45,305.82 429.53,305.87 442.7,305.9 C455.87,305.93 472.27,305.7 479,306 C485.73,306.3 481.87,306.97 483.1,307.7 C484.33,308.43 485.28,308.83 486.4,310.4 C487.52,311.97 488.78,314.92 489.8,317.1 C490.82,319.28 491.47,321.13 492.5,323.5 C493.53,325.87 494.9,327.82 496,331.3 C497.1,334.78 498.07,340.53 499.1,344.4 C500.13,348.27 501.02,351.82 502.2,354.5 C503.38,357.18 504.2,358.83 506.2,360.5 C508.2,362.17 511.18,363.15 514.2,364.5 C517.22,365.85 521.22,367.42 524.3,368.6 C527.38,369.78 531.3,371.1 532.7,371.6" fill="none" stroke="#1a1a1a" stroke-width="1.3" stroke-dasharray="4,3"/>
<line x1="312.5" y1="305.6" x2="412" y2="305.6" stroke="#2020c0" stroke-width="1.2" stroke-dasharray="4.5,3"/>
<path d="M312.5,372.6 C315.42,372.6 325.92,372.62 330,372.6 C334.08,372.58 335.33,372.68 337,372.5 C338.67,372.32 339,372.33 340,371.5 C341,370.67 342.08,369.17 343,367.5 C343.92,365.83 344.73,363.42 345.5,361.5 C346.27,359.58 346.82,358.42 347.6,356 C348.38,353.58 349.32,349.55 350.2,347 C351.08,344.45 351.85,342.63 352.9,340.7 C353.95,338.77 355.3,337.03 356.5,335.4 C357.7,333.77 358.9,332.25 360.1,330.9 C361.3,329.55 362.63,328.62 363.7,327.3 C364.77,325.98 365.6,324.5 366.5,323 C367.4,321.5 368.07,320.13 369.1,318.3 C370.13,316.47 371.43,313.9 372.7,312 C373.97,310.1 374.9,308.42 376.7,306.9 C378.5,305.38 381.28,303.88 383.5,302.9 C385.72,301.92 387.77,301.57 390,301 C392.23,300.43 393.5,299.9 396.9,299.5 C400.3,299.1 404.88,298.73 410.4,298.6 C415.92,298.47 424.62,298.58 430,298.7 C435.38,298.82 437.67,299.03 442.7,299.3 C447.73,299.57 455.05,299.92 460.2,300.3 C465.35,300.68 470.47,301.27 473.6,301.6 C476.73,301.93 477.42,301.73 479,302.3 C480.58,302.87 481.87,303.88 483.1,305 C484.33,306.12 485.28,307.2 486.4,309 C487.52,310.8 488.67,313.33 489.8,315.8 C490.93,318.27 492.17,321.22 493.2,323.8 C494.23,326.38 495.02,327.87 496,331.3 C496.98,334.73 498.07,340.53 499.1,344.4 C500.13,348.27 501.02,351.82 502.2,354.5 C503.38,357.18 504.2,358.83 506.2,360.5 C508.2,362.17 511.18,363.15 514.2,364.5 C517.22,365.85 521.22,367.42 524.3,368.6 C527.38,369.78 531.3,371.1 532.7,371.6" fill="none" stroke="#f08c1e" stroke-width="2.1" stroke-linejoin="round" stroke-linecap="round"/>
<path d="M312.5,372.6 C315.42,372.6 325.67,372.62 330,372.6 C334.33,372.58 336.58,372.68 338.5,372.5 C340.42,372.32 340.5,372.33 341.5,371.5 C342.5,370.67 343.58,369.05 344.5,367.5 C345.42,365.95 346.15,364.37 347,362.2 C347.85,360.03 348.73,357.07 349.6,354.5 C350.47,351.93 351.35,349.05 352.2,346.8 C353.05,344.55 353.82,342.47 354.7,341 C355.58,339.53 356.6,338.78 357.5,338 C358.4,337.22 358.47,337.18 360.1,336.3 C361.73,335.42 364.82,334.05 367.3,332.7 C369.78,331.35 372.3,329.8 375,328.2 C377.7,326.6 379.85,325 383.5,323.1 C387.15,321.2 394.15,318.18 396.9,316.8 C399.65,315.42 398.55,315.87 400,314.8 C401.45,313.73 403.73,312.27 405.6,310.4 C407.47,308.53 409.33,305.67 411.2,303.6 C413.07,301.53 414.93,299.95 416.8,298 C418.67,296.05 420.53,293.58 422.4,291.9 C424.27,290.22 426.13,288.83 428,287.9 C429.87,286.97 431.17,286.77 433.6,286.3 C436.03,285.83 439.72,285.25 442.6,285.1 C445.48,284.95 448.42,285.25 450.9,285.4 C453.38,285.55 454.83,285.63 457.5,286 C460.17,286.37 464.32,287 466.9,287.6 C469.48,288.2 470.98,288.53 473,289.6 C475.02,290.67 477.32,292.27 479,294 C480.68,295.73 481.75,297.47 483.1,300 C484.45,302.53 485.77,305.9 487.1,309.2 C488.43,312.5 489.87,316.58 491.1,319.8 C492.33,323.02 493.17,324.4 494.5,328.5 C495.83,332.6 497.82,340.07 499.1,344.4 C500.38,348.73 501.02,351.82 502.2,354.5 C503.38,357.18 504.2,358.83 506.2,360.5 C508.2,362.17 511.18,363.15 514.2,364.5 C517.22,365.85 521.22,367.42 524.3,368.6 C527.38,369.78 531.3,371.1 532.7,371.6" fill="none" stroke="#287c78" stroke-width="1.4" stroke-dasharray="3.8,1.2,1.3,1.4"/>
<path d="M312.5,372.6 C315.42,372.6 325.8,372.62 330,372.6 C334.2,372.58 335.95,372.77 337.7,372.5 C339.45,372.23 339.65,371.73 340.5,371 C341.35,370.27 341.92,369.97 342.8,368.1 C343.68,366.23 344.88,362.57 345.8,359.8 C346.72,357.03 347.45,354.22 348.3,351.5 C349.15,348.78 350.07,346.17 350.9,343.5 C351.73,340.83 352.48,337.53 353.3,335.5 C354.12,333.47 354.82,332.42 355.8,331.3 C356.78,330.18 357.88,329.43 359.2,328.8 C360.52,328.17 361.9,328.08 363.7,327.5 C365.5,326.92 366.7,326.38 370,325.3 C373.3,324.22 379.02,322.55 383.5,321 C387.98,319.45 392.42,317.83 396.9,316 C401.38,314.17 406.37,312 410.4,310 C414.43,308 417.83,305.78 421.1,304 C424.37,302.22 426.85,300.97 430,299.3 C433.15,297.63 436.08,295.8 440,294 C443.92,292.2 449.68,289.7 453.5,288.5 C457.32,287.3 459.55,286.75 462.9,286.8 C466.25,286.85 470.92,287.85 473.6,288.8 C476.28,289.75 477.42,291.15 479,292.5 C480.58,293.85 481.52,294.37 483.1,296.9 C484.68,299.43 487.02,304.1 488.5,307.7 C489.98,311.3 490.95,315.03 492,318.5 C493.05,321.97 493.62,324.18 494.8,328.5 C495.98,332.82 497.87,340.07 499.1,344.4 C500.33,348.73 501.02,351.82 502.2,354.5 C503.38,357.18 504.2,358.83 506.2,360.5 C508.2,362.17 511.18,363.15 514.2,364.5 C517.22,365.85 521.22,367.42 524.3,368.6 C527.38,369.78 531.3,371.1 532.7,371.6" fill="none" stroke="#c070c8" stroke-width="1.25" stroke-dasharray="1.1,0.9"/>
<path d="M312.5,372.6 C315.42,372.6 325.8,372.62 330,372.6 C334.2,372.58 335.95,372.77 337.7,372.5 C339.45,372.23 339.65,371.73 340.5,371 C341.35,370.27 341.92,370 342.8,368.1 C343.68,366.2 344.88,362.43 345.8,359.6 C346.72,356.77 347.45,353.95 348.3,351.1 C349.15,348.25 350.07,345.35 350.9,342.5 C351.73,339.65 352.48,336.17 353.3,334 C354.12,331.83 354.82,330.67 355.8,329.5 C356.78,328.33 357.88,327.6 359.2,327 C360.52,326.4 361.9,326.4 363.7,325.9 C365.5,325.4 366.7,325.05 370,324 C373.3,322.95 379.02,321.13 383.5,319.6 C387.98,318.07 392.42,316.53 396.9,314.8 C401.38,313.07 406.37,311.07 410.4,309.2 C414.43,307.33 417.83,305.3 421.1,303.6 C424.37,301.9 426.85,300.57 430,299 C433.15,297.43 436.08,295.95 440,294.2 C443.92,292.45 449.68,289.62 453.5,288.5 C457.32,287.38 459.77,287.25 462.9,287.5 C466.03,287.75 469.62,288.88 472.3,290 C474.98,291.12 477.2,292.6 479,294.2 C480.8,295.8 481.75,297.13 483.1,299.6 C484.45,302.07 485.77,305.63 487.1,309 C488.43,312.37 489.87,316.55 491.1,319.8 C492.33,323.05 493.17,324.4 494.5,328.5 C495.83,332.6 497.82,340.07 499.1,344.4 C500.38,348.73 501.02,351.82 502.2,354.5 C503.38,357.18 504.2,358.83 506.2,360.5 C508.2,362.17 511.18,363.15 514.2,364.5 C517.22,365.85 521.22,367.42 524.3,368.6 C527.38,369.78 531.3,371.1 532.7,371.6" fill="none" stroke="#b0404c" stroke-width="1.3" stroke-linejoin="round"/>
<rect x="54.5" y="21" width="207.8" height="161.2" fill="none" stroke="#262626" stroke-width="1.2"/>
<text x="96.4" y="198.3" font-size="11.8" text-anchor="middle" font-family='"Liberation Sans", sans-serif' fill="#262626" stroke="#262626" stroke-width="0.22">0</text>
<text x="157.1" y="198.3" font-size="11.8" text-anchor="middle" font-family='"Liberation Sans", sans-serif' fill="#262626" stroke="#262626" stroke-width="0.22">100</text>
<text x="217.8" y="198.3" font-size="11.8" text-anchor="middle" font-family='"Liberation Sans", sans-serif' fill="#262626" stroke="#262626" stroke-width="0.22">200</text>
<text x="50.7" y="186.45" font-size="11.8" text-anchor="end" font-family='"Liberation Sans", sans-serif' fill="#262626" stroke="#262626" stroke-width="0.22">-50</text>
<text x="50.7" y="128.95" font-size="11.8" text-anchor="end" font-family='"Liberation Sans", sans-serif' fill="#262626" stroke="#262626" stroke-width="0.22">0</text>
<text x="50.7" y="71.45" font-size="11.8" text-anchor="end" font-family='"Liberation Sans", sans-serif' fill="#262626" stroke="#262626" stroke-width="0.22">50</text>
<line x1="204" y1="32.4" x2="219.2" y2="32.4" stroke="#1a1a1a" stroke-width="1.3" stroke-dasharray="4,3.8"/>
<text x="240" y="37.02" font-size="10.6" text-anchor="middle" font-family='"Liberation Sans", sans-serif' fill="#262626" stroke="#262626" stroke-width="0.22">0 min</text>
<circle cx="211.6" cy="46.2" r="1.2" fill="#f08c1e"/>
<text x="240" y="50.82" font-size="10.6" text-anchor="middle" font-family='"Liberation Sans", sans-serif' fill="#262626" stroke="#262626" stroke-width="0.22">1 min</text>
<line x1="204" y1="60.1" x2="219.2" y2="60.1" stroke="#287c78" stroke-width="1.4" stroke-dasharray="3.8,1.2,1.3,1.5"/>
<text x="240" y="64.72" font-size="10.6" text-anchor="middle" font-family='"Liberation Sans", sans-serif' fill="#262626" stroke="#262626" stroke-width="0.22">5 min</text>
<line x1="204" y1="73.9" x2="219.2" y2="73.9" stroke="#c070c8" stroke-width="1.1" stroke-dasharray="1,1"/>
<text x="240" y="78.52" font-size="10.6" text-anchor="middle" font-family='"Liberation Sans", sans-serif' fill="#262626" stroke="#262626" stroke-width="0.22">30 min</text>
<line x1="204" y1="87.8" x2="219.2" y2="87.8" stroke="#b0404c" stroke-width="1.3" />
<text x="240" y="92.42" font-size="10.6" text-anchor="middle" font-family='"Liberation Sans", sans-serif' fill="#262626" stroke="#262626" stroke-width="0.22">60 min</text>
<rect x="306.2" y="19.1" width="225.3" height="164.4" fill="none" stroke="#262626" stroke-width="1.2"/>
<text x="317.93" y="198.6" font-size="10.4" text-anchor="middle" font-family='"Liberation Sans", sans-serif' fill="#262626" stroke="#262626" stroke-width="0.22">-50</text>
<text x="350.8" y="198.6" font-size="10.4" text-anchor="middle" font-family='"Liberation Sans", sans-serif' fill="#262626" stroke="#262626" stroke-width="0.22">0</text>
<text x="383.68" y="198.6" font-size="10.4" text-anchor="middle" font-family='"Liberation Sans", sans-serif' fill="#262626" stroke="#262626" stroke-width="0.22">50</text>
<text x="416.55" y="198.6" font-size="10.4" text-anchor="middle" font-family='"Liberation Sans", sans-serif' fill="#262626" stroke="#262626" stroke-width="0.22">100</text>
<text x="449.43" y="198.6" font-size="10.4" text-anchor="middle" font-family='"Liberation Sans", sans-serif' fill="#262626" stroke="#262626" stroke-width="0.22">150</text>
<text x="482.3" y="198.6" font-size="10.4" text-anchor="middle" font-family='"Liberation Sans", sans-serif' fill="#262626" stroke="#262626" stroke-width="0.22">200</text>
<text x="515.17" y="198.6" font-size="10.4" text-anchor="middle" font-family='"Liberation Sans", sans-serif' fill="#262626" stroke="#262626" stroke-width="0.22">250</text>
<text x="302.6" y="187.29" font-size="10.4" text-anchor="end" font-family='"Liberation Sans", sans-serif' fill="#262626" stroke="#262626" stroke-width="0.22">-20</text>
<text x="302.6" y="159.94" font-size="10.4" text-anchor="end" font-family='"Liberation Sans", sans-serif' fill="#262626" stroke="#262626" stroke-width="0.22">0</text>
<text x="302.6" y="132.59" font-size="10.4" text-anchor="end" font-family='"Liberation Sans", sans-serif' fill="#262626" stroke="#262626" stroke-width="0.22">20</text>
<text x="302.6" y="105.24" font-size="10.4" text-anchor="end" font-family='"Liberation Sans", sans-serif' fill="#262626" stroke="#262626" stroke-width="0.22">40</text>
<text x="302.6" y="77.89" font-size="10.4" text-anchor="end" font-family='"Liberation Sans", sans-serif' fill="#262626" stroke="#262626" stroke-width="0.22">60</text>
<text x="302.6" y="50.54" font-size="10.4" text-anchor="end" font-family='"Liberation Sans", sans-serif' fill="#262626" stroke="#262626" stroke-width="0.22">80</text>
<text x="302.6" y="23.19" font-size="10.4" text-anchor="end" font-family='"Liberation Sans", sans-serif' fill="#262626" stroke="#262626" stroke-width="0.22">100</text>
<line x1="481.6" y1="26" x2="494.5" y2="26" stroke="#1a1a1a" stroke-width="1.3" stroke-dasharray="3.3,3.9"/>
<text x="512.2" y="30.13" font-size="9.8" text-anchor="middle" font-family='"Liberation Sans", sans-serif' fill="#262626" stroke="#262626" stroke-width="0.22">0 min</text>
<circle cx="488.05" cy="38.9" r="1.2" fill="#f08c1e"/>
<text x="512.2" y="43.03" font-size="9.8" text-anchor="middle" font-family='"Liberation Sans", sans-serif' fill="#262626" stroke="#262626" stroke-width="0.22">1 min</text>
<line x1="481.6" y1="52.3" x2="494.5" y2="52.3" stroke="#287c78" stroke-width="1.4" stroke-dasharray="3.8,1.2,1.3,1.5"/>
<text x="512.2" y="56.43" font-size="9.8" text-anchor="middle" font-family='"Liberation Sans", sans-serif' fill="#262626" stroke="#262626" stroke-width="0.22">5 min</text>
<line x1="481.6" y1="65.6" x2="494.5" y2="65.6" stroke="#c070c8" stroke-width="1.1" stroke-dasharray="1,1"/>
<text x="512.2" y="69.73" font-size="9.8" text-anchor="middle" font-family='"Liberation Sans", sans-serif' fill="#262626" stroke="#262626" stroke-width="0.22">30 min</text>
<line x1="481.6" y1="78.8" x2="494.5" y2="78.8" stroke="#b0404c" stroke-width="1.3" />
<text x="512.2" y="82.93" font-size="9.8" text-anchor="middle" font-family='"Liberation Sans", sans-serif' fill="#262626" stroke="#262626" stroke-width="0.22">60 min</text>
<rect x="54.5" y="238.5" width="207.3" height="161" fill="none" stroke="#262626" stroke-width="1.2"/>
<text x="89.1" y="415.6" font-size="11.8" text-anchor="middle" font-family='"Liberation Sans", sans-serif' fill="#262626" stroke="#262626" stroke-width="0.22">0</text>
<text x="147.8" y="415.6" font-size="11.8" text-anchor="middle" font-family='"Liberation Sans", sans-serif' fill="#262626" stroke="#262626" stroke-width="0.22">100</text>
<text x="206.5" y="415.6" font-size="11.8" text-anchor="middle" font-family='"Liberation Sans", sans-serif' fill="#262626" stroke="#262626" stroke-width="0.22">200</text>
<text x="50.7" y="403.75" font-size="11.8" text-anchor="end" font-family='"Liberation Sans", sans-serif' fill="#262626" stroke="#262626" stroke-width="0.22">-50</text>
<text x="50.7" y="346.25" font-size="11.8" text-anchor="end" font-family='"Liberation Sans", sans-serif' fill="#262626" stroke="#262626" stroke-width="0.22">0</text>
<text x="50.7" y="288.75" font-size="11.8" text-anchor="end" font-family='"Liberation Sans", sans-serif' fill="#262626" stroke="#262626" stroke-width="0.22">50</text>
<line x1="208.3" y1="246.7" x2="223.5" y2="246.7" stroke="#1a1a1a" stroke-width="1.3" stroke-dasharray="4,3.8"/>
<text x="244.6" y="251.12" font-size="10.9" text-anchor="middle" font-family='"Liberation Sans", sans-serif' fill="#262626" stroke="#262626" stroke-width="0.22">0 min</text>
<circle cx="215.9" cy="260.6" r="1.2" fill="#f08c1e"/>
<text x="244.6" y="265.02" font-size="10.9" text-anchor="middle" font-family='"Liberation Sans", sans-serif' fill="#262626" stroke="#262626" stroke-width="0.22">1 min</text>
<line x1="208.3" y1="274.9" x2="223.5" y2="274.9" stroke="#287c78" stroke-width="1.4" stroke-dasharray="3.8,1.2,1.3,1.5"/>
<text x="244.6" y="279.32" font-size="10.9" text-anchor="middle" font-family='"Liberation Sans", sans-serif' fill="#262626" stroke="#262626" stroke-width="0.22">5 min</text>
<line x1="208.3" y1="288.6" x2="223.5" y2="288.6" stroke="#c070c8" stroke-width="1.1" stroke-dasharray="1,1"/>
<text x="244.6" y="293.02" font-size="10.9" text-anchor="middle" font-family='"Liberation Sans", sans-serif' fill="#262626" stroke="#262626" stroke-width="0.22">30 min</text>
<line x1="208.3" y1="302.3" x2="223.5" y2="302.3" stroke="#b0404c" stroke-width="1.3" />
<text x="244.6" y="306.72" font-size="10.9" text-anchor="middle" font-family='"Liberation Sans", sans-serif' fill="#262626" stroke="#262626" stroke-width="0.22">60 min</text>
<rect x="312.5" y="238.7" width="220.2" height="160.8" fill="none" stroke="#262626" stroke-width="1.2"/>
<text x="348.6" y="416" font-size="12" text-anchor="middle" font-family='"Liberation Sans", sans-serif' fill="#262626" stroke="#262626" stroke-width="0.22">0</text>
<text x="410.7" y="416" font-size="12" text-anchor="middle" font-family='"Liberation Sans", sans-serif' fill="#262626" stroke="#262626" stroke-width="0.22">100</text>
<text x="472.8" y="416" font-size="12" text-anchor="middle" font-family='"Liberation Sans", sans-serif' fill="#262626" stroke="#262626" stroke-width="0.22">200</text>
<text x="308.3" y="403.8" font-size="12" text-anchor="end" font-family='"Liberation Sans", sans-serif' fill="#262626" stroke="#262626" stroke-width="0.22">-20</text>
<text x="308.3" y="377.02" font-size="12" text-anchor="end" font-family='"Liberation Sans", sans-serif' fill="#262626" stroke="#262626" stroke-width="0.22">0</text>
<text x="308.3" y="350.24" font-size="12" text-anchor="end" font-family='"Liberation Sans", sans-serif' fill="#262626" stroke="#262626" stroke-width="0.22">20</text>
<text x="308.3" y="323.46" font-size="12" text-anchor="end" font-family='"Liberation Sans", sans-serif' fill="#262626" stroke="#262626" stroke-width="0.22">40</text>
<text x="308.3" y="296.68" font-size="12" text-anchor="end" font-family='"Liberation Sans", sans-serif' fill="#262626" stroke="#262626" stroke-width="0.22">60</text>
<text x="308.3" y="269.9" font-size="12" text-anchor="end" font-family='"Liberation Sans", sans-serif' fill="#262626" stroke="#262626" stroke-width="0.22">80</text>
<text x="308.3" y="243.12" font-size="12" text-anchor="end" font-family='"Liberation Sans", sans-serif' fill="#262626" stroke="#262626" stroke-width="0.22">100</text>
<line x1="438" y1="337.4" x2="454.2" y2="337.4" stroke="#1a1a1a" stroke-width="1.3" stroke-dasharray="4,3.8"/>
<text x="476.5" y="342.1" font-size="11.4" text-anchor="middle" font-family='"Liberation Sans", sans-serif' fill="#262626" stroke="#262626" stroke-width="0.22">0 min</text>
<circle cx="446.1" cy="351.2" r="1.2" fill="#f08c1e"/>
<text x="476.5" y="355.9" font-size="11.4" text-anchor="middle" font-family='"Liberation Sans", sans-serif' fill="#262626" stroke="#262626" stroke-width="0.22">1 min</text>
<line x1="438" y1="365.3" x2="454.2" y2="365.3" stroke="#287c78" stroke-width="1.4" stroke-dasharray="3.8,1.2,1.3,1.5"/>
<text x="476.5" y="370" font-size="11.4" text-anchor="middle" font-family='"Liberation Sans", sans-serif' fill="#262626" stroke="#262626" stroke-width="0.22">5 min</text>
<line x1="438" y1="379.4" x2="454.2" y2="379.4" stroke="#c070c8" stroke-width="1.1" stroke-dasharray="1,1"/>
<text x="476.5" y="384.1" font-size="11.4" text-anchor="middle" font-family='"Liberation Sans", sans-serif' fill="#262626" stroke="#262626" stroke-width="0.22">30 min</text>
<line x1="438" y1="393.5" x2="454.2" y2="393.5" stroke="#b0404c" stroke-width="1.3" />
<text x="476.5" y="398.2" font-size="11.4" text-anchor="middle" font-family='"Liberation Sans", sans-serif' fill="#262626" stroke="#262626" stroke-width="0.22">60 min</text>
<text x="96.35" y="18.5" font-size="12.7" text-anchor="middle" font-family='"Liberation Sans", sans-serif' fill="#262626" stroke="#262626" stroke-width="0.22">Anode</text>
<text x="220.75" y="18.5" font-size="12.5" text-anchor="middle" font-family='"Liberation Sans", sans-serif' fill="#262626" stroke="#262626" stroke-width="0.22">Cathode</text>
<text x="64.7" y="42.5" font-size="18.5" text-anchor="start" font-family='"Liberation Serif", serif' fill="#262626" fill-opacity="1" style="fill:#000">(a)</text>
<text x="115.1" y="41" font-size="13.8" text-anchor="start" font-family='"Liberation Serif", serif' fill="#262626" fill-opacity="1" style="fill:#000">AC material</text>
<text x="101.4" y="215.5" font-size="12.5" text-anchor="start" font-family='"Liberation Sans", sans-serif' fill="#262626" stroke="#262626" stroke-width="0.22">Thickness (µm)</text>
<text transform="translate(27.7,101.7) rotate(-90)" font-size="13.45" text-anchor="middle" font-family='"Liberation Sans", sans-serif' fill="#262626" stroke="#262626" stroke-width="0.22">Space charge (C/m<tspan font-size="10.3" dy="-5.6">3</tspan><tspan dy="5.6">)</tspan></text>
<path d="M105.8,70 C105.8,66.08 105.8,50.42 105.8,46.5" fill="none" stroke="#000" stroke-width="2.0" stroke-dasharray="1.8,1.8"/>
<path d="M105.8,35.4 L109.05,46.4 L102.55,46.4 Z" fill="#000"/>
<path d="M151.1,109.4 C146.52,114.9 128.18,136.9 123.6,142.4" fill="none" stroke="#000" stroke-width="2.0" stroke-dasharray="1.8,1.8"/>
<path d="M113.5,153.3 L118.91,141.95 L124.41,147.05 Z" fill="#000"/>
<text x="350" y="16.6" font-size="12.7" text-anchor="middle" font-family='"Liberation Sans", sans-serif' fill="#262626" stroke="#262626" stroke-width="0.22">Anode</text>
<text x="486.7" y="16.4" font-size="12.7" text-anchor="middle" font-family='"Liberation Sans", sans-serif' fill="#262626" stroke="#262626" stroke-width="0.22">Cathode</text>
<text x="314.5" y="42.8" font-size="18.5" text-anchor="start" font-family='"Liberation Serif", serif' fill="#262626" fill-opacity="1" style="fill:#000">(b)</text>
<text x="380" y="41.1" font-size="13.8" text-anchor="start" font-family='"Liberation Serif", serif' fill="#262626" fill-opacity="1" style="fill:#000">AC material</text>
<text x="361.4" y="214.5" font-size="11.9" text-anchor="start" font-family='"Liberation Sans", sans-serif' fill="#262626" stroke="#262626" stroke-width="0.22">Thickness (µm)</text>
<text transform="translate(281.7,110.85) rotate(-90)" font-size="13.0" text-anchor="middle" font-family='"Liberation Sans", sans-serif' fill="#262626" stroke="#262626" stroke-width="0.22">Electric field (kV/mm)</text>
<path d="M383.3,109.3 C381.97,106.53 377.42,97.55 375.3,92.7 C373.18,87.85 372.17,85.42 370.6,80.2 C369.03,74.98 367,67.77 365.9,61.4 C364.8,55.03 364.37,46.23 364,42 C363.63,37.77 363.75,37 363.7,36" fill="none" stroke="#000" stroke-width="2.0" stroke-dasharray="1.8,1.8"/>
<path d="M363.3,25 L366.95,35.87 L360.45,36.11 Z" fill="#000"/>
<path d="M468.6,64.8 C461.6,72.83 433.6,104.97 426.6,113" fill="none" stroke="#000" stroke-width="2.0" stroke-dasharray="1.8,1.8"/>
<path d="M418.3,122.4 L423.14,112 L428.02,116.31 Z" fill="#000"/>
<text x="88.65" y="236.5" font-size="12.75" text-anchor="middle" font-family='"Liberation Sans", sans-serif' fill="#262626" stroke="#262626" stroke-width="0.22">Anode</text>
<text x="226.25" y="236.4" font-size="12.6" text-anchor="middle" font-family='"Liberation Sans", sans-serif' fill="#262626" stroke="#262626" stroke-width="0.22">Cathode</text>
<text x="64.2" y="261" font-size="18.5" text-anchor="start" font-family='"Liberation Serif", serif' fill="#262626" fill-opacity="1" style="fill:#000">(c)</text>
<text x="115.5" y="259.6" font-size="13.7" text-anchor="start" font-family='"Liberation Serif", serif' fill="#262626" fill-opacity="1" style="fill:#000">DC material</text>
<text x="101" y="432.4" font-size="12.7" text-anchor="start" font-family='"Liberation Sans", sans-serif' fill="#262626" stroke="#262626" stroke-width="0.22">Thickness (µm)</text>
<text transform="translate(27.7,319.3) rotate(-90)" font-size="13.45" text-anchor="middle" font-family='"Liberation Sans", sans-serif' fill="#262626" stroke="#262626" stroke-width="0.22">Space charge (C/m<tspan font-size="10.3" dy="-5.6">3</tspan><tspan dy="5.6">)</tspan></text>
<path d="M96,282.6 C96.42,283.92 97.58,287.6 98.5,290.5 C99.42,293.4 100.25,297 101.5,300 C102.75,303 104.25,306.17 106,308.5 C107.75,310.83 109.8,312.45 112,314 C114.2,315.55 116.7,316.8 119.2,317.8 C121.7,318.8 124.37,319.42 127,320 C129.63,320.58 132.58,320.98 135,321.3 C137.42,321.62 140.42,321.8 141.5,321.9" fill="none" stroke="#000" stroke-width="2.0" stroke-dasharray="1.8,1.8"/>
<path d="M152.5,322 L141.47,325.4 L141.53,318.4 Z" fill="#000"/>
<text x="348.35" y="236.5" font-size="12.7" text-anchor="middle" font-family='"Liberation Sans", sans-serif' fill="#262626" stroke="#262626" stroke-width="0.22">Anode</text>
<text x="495.2" y="236.7" font-size="12.55" text-anchor="middle" font-family='"Liberation Sans", sans-serif' fill="#262626" stroke="#262626" stroke-width="0.22">Cathode</text>
<text x="321.5" y="261" font-size="18.5" text-anchor="start" font-family='"Liberation Serif", serif' fill="#262626" fill-opacity="1" style="fill:#000">(d)</text>
<text x="380" y="259.6" font-size="13.7" text-anchor="start" font-family='"Liberation Serif", serif' fill="#262626" fill-opacity="1" style="fill:#000">DC material</text>
<text x="366" y="432.4" font-size="12.75" text-anchor="start" font-family='"Liberation Sans", sans-serif' fill="#262626" stroke="#262626" stroke-width="0.22">Thickness (µm)</text>
<text transform="translate(281.7,327.4) rotate(-90)" font-size="13.3" text-anchor="middle" font-family='"Liberation Sans", sans-serif' fill="#262626" stroke="#262626" stroke-width="0.22">Electric field (kV/mm)</text>
<path d="M373.4,300.1 C375.92,304.3 385.98,321.1 388.5,325.3" fill="none" stroke="#000" stroke-width="2.0" stroke-dasharray="1.8,1.8"/>
<path d="M394.6,335.4 L385.92,327.79 L391.91,324.17 Z" fill="#000"/>
<path d="M441.9,313 C445.32,308.23 458.98,289.17 462.4,284.4" fill="none" stroke="#000" stroke-width="2.0" stroke-dasharray="1.8,1.8"/>
<path d="M470.6,274.2 L466.44,284.97 L460.98,280.58 Z" fill="#000"/>
</svg></body></html>
